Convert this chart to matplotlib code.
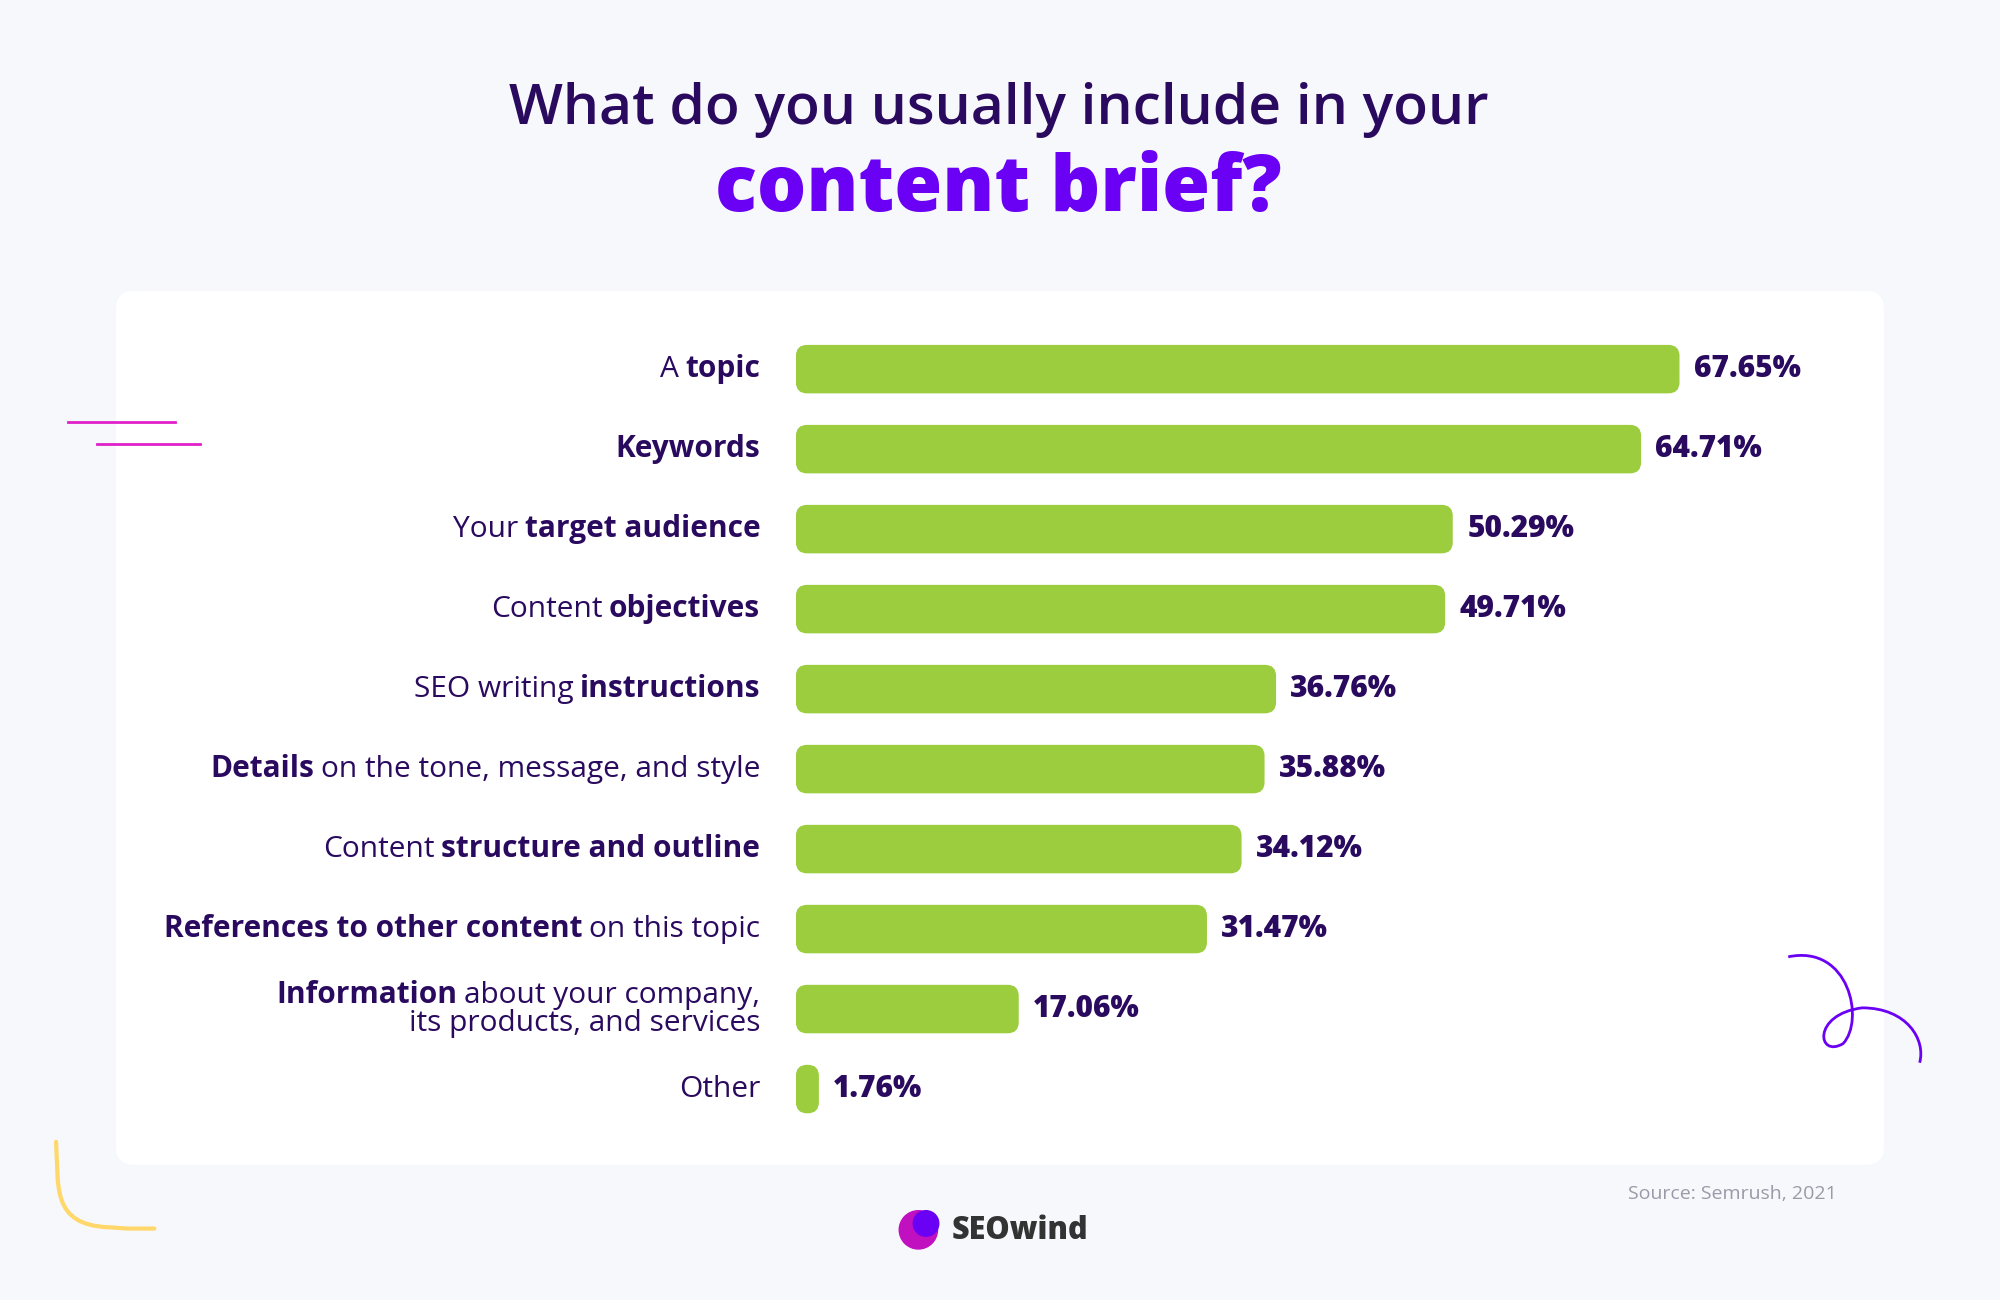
import numpy as np
import matplotlib.pyplot as plt
from matplotlib.patches import FancyBboxPatch, PathPatch
from matplotlib.path import Path

# data
labels = [
    [("A", False), ("topic", True)],
    [("Keywords", True)],
    [("Your", False), ("target audience", True)],
    [("Content", False), ("objectives", True)],
    [("SEO writing", False), ("instructions", True)],
    [("Details", True), ("on the tone, message, and style", False)],
    [("Content", False), ("structure and outline", True)],
    [("References to other content", True), ("on this topic", False)],
    [("Information", True), ("about your company,", False)],
    [("Other", False)],
]
extra_line = {8: "its products, and services"}
values = [67.65, 64.71, 50.29, 49.71, 36.76, 35.88, 34.12, 31.47, 17.06, 1.76]

W, H = 1568, 1019
dark = "#2a0a5e"
purple = "#6a00f4"
green = "#9bcd3e"
FONT = "Open Sans"
LFS = 21.5

fig = plt.figure(figsize=(20, 13), dpi=100)
fig.patch.set_facecolor("#f7f8fc")
bg = fig.add_axes([0, 0, 1, 1])
bg.set_xlim(0, W)
bg.set_ylim(H, 0)
bg.axis("off")

# card
bg.add_patch(FancyBboxPatch((91, 228), 1386, 685, boxstyle="round,pad=0,rounding_size=14",
                            fc="white", ec="none"))

# title
bg.text(W / 2 - 1, 86, "What do you usually include in your", ha="center", va="center",
        fontsize=41, color=dark, family=FONT, fontweight="semibold")
bg.text(W / 2 - 1, 150, "content brief?", ha="center", va="center",
        fontsize=56, color=purple, family=FONT, fontweight="heavy")

# bars axes: x in percent, rows spaced ~62.7 px
x0, x1 = 624, 1477
ytop, ybot = 258, 885
ax = fig.add_axes([x0 / W, 1 - ybot / H, (x1 - x0) / W, (ybot - ytop) / H])
ax.set_xlim(0, (x1 - x0) / 10.24)
ax.set_ylim(len(values) - 0.5, -0.5)
ax.axis("off")
ax.patch.set_alpha(0)
px_per_y = (ybot - ytop) / len(values)
aspect = 10.24 / px_per_y
bh = 38 / px_per_y
for i, v in enumerate(values):
    ax.add_patch(FancyBboxPatch((0, i - bh / 2), v, bh,
                                boxstyle="round,pad=0,rounding_size=0.85",
                                mutation_aspect=aspect, fc=green, ec="none"))
    ax.text(v + 1.1, i, f"{v:.2f}%", ha="left", va="center", fontsize=LFS,
            fontweight="heavy", color=dark, family=FONT)

# labels with mixed weights, right aligned at x=596
fig.canvas.draw()
r = fig.canvas.get_renderer()
inv = bg.transData.inverted()
space = 5
for i, segs in enumerate(labels):
    y = ytop + (i + 0.5) * px_per_y
    if i in extra_line:
        y -= 11
        bg.text(596, y + 22, extra_line[i], ha="right", va="center", fontsize=LFS,
                color=dark, family=FONT)
    xr = 596
    for txt, bold in reversed(segs):
        t = bg.text(xr, y, txt, ha="right", va="center", fontsize=LFS, color=dark,
                    family=FONT, fontweight="bold" if bold else "normal")
        bb = t.get_window_extent(r)
        w = inv.transform((bb.x1, 0))[0] - inv.transform((bb.x0, 0))[0]
        xr -= w + space

# decorations
bg.plot([53, 137], [331, 331], color="#e020c8", lw=2)
bg.plot([76, 157], [348, 348], color="#e020c8", lw=2)
bg.add_patch(PathPatch(Path([(44, 895), (46, 930), (40, 960), (85, 962), (100, 963), (121, 963)],
                            [Path.MOVETO, Path.CURVE4, Path.CURVE4, Path.CURVE4,
                             Path.LINETO, Path.LINETO]),
                       fc="none", ec="#ffd76a", lw=3, capstyle="round"))
bg.add_patch(PathPatch(Path([(1402, 750), (1450, 740), (1462, 800), (1445, 818),
                             (1425, 830), (1420, 795), (1460, 790),
                             (1495, 790), (1510, 815), (1505, 833)],
                            [Path.MOVETO] + [Path.CURVE4] * 9),
                       fc="none", ec=purple, lw=2))

bg.text(1440, 936, "Source: Semrush, 2021", ha="right", va="center", fontsize=14,
        color="#9a9aa8", family=FONT)
bg.add_patch(plt.Circle((720, 964), 15, color="#c010c0"))
bg.add_patch(plt.Circle((726, 959), 10, color=purple))
bg.text(746, 965, "SEOwind", ha="left", va="center", fontsize=22, fontweight="heavy",
        color="#333333", family=FONT)

fig.savefig("out.png", dpi=100, facecolor=fig.get_facecolor())
